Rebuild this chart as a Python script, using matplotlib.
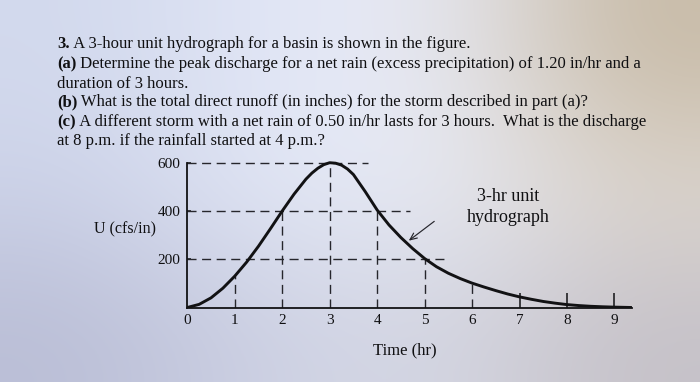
import numpy as np
import matplotlib
matplotlib.use("Agg")
import matplotlib.pyplot as plt

# ---------------- data ----------------
time_hr = [0, 0.25, 0.5, 0.75, 1, 1.25, 1.5, 1.75, 2, 2.25, 2.5, 2.625, 2.75,
           2.875, 3, 3.125, 3.25, 3.375, 3.5, 3.75, 4, 4.25, 4.5, 4.75, 5,
           5.25, 5.5, 5.75, 6, 6.25, 6.5, 6.75, 7, 7.25, 7.5, 7.75, 8, 8.25,
           8.5, 8.75, 9, 9.36]
unit_q = [0, 13, 40, 80, 130, 188, 254, 326, 400, 470, 532, 557, 577,
          592, 600, 598, 590, 574, 551, 480, 404, 342, 290, 244, 203,
          169, 142, 120, 101, 85, 70, 56, 44, 34, 25, 18, 12, 8,
          5, 3, 1.5, 0]

x_ticks = [0, 1, 2, 3, 4, 5, 6, 7, 8, 9]
y_ticks = [200, 400, 600]
guide_hours = [1, 2, 3, 4, 5, 6]          # dashed verticals up to the curve
guide_levels = [200, 400, 600]            # dashed horizontals
guide_level_ends = [5.5, 4.7, 3.8]        # where each horizontal stops (hr)
solid_tick_hours = [7, 8, 9]

question_lines = [
    ("3.", " A 3-hour unit hydrograph for a basin is shown in the figure."),
    ("(a)", " Determine the peak discharge for a net rain (excess precipitation) of 1.20 in/hr and a"),
    ("", "duration of 3 hours."),
    ("(b)", " What is the total direct runoff (in inches) for the storm described in part (a)?"),
    ("(c)", " A different storm with a net rain of 0.50 in/hr lasts for 3 hours.  What is the discharge"),
    ("", "at 8 p.m. if the rainfall started at 4 p.m.?"),
]
y_label = "U (cfs/in)"
x_label = "Time (hr)"
curve_label = ["3-hr unit", "hydrograph"]

# ---------------- figure ----------------
W, H = 700, 382
fig = plt.figure(figsize=(W / 100, H / 100), dpi=100)
FONT = "Liberation Serif"
TXT = "#101012"
INK = "#121214"
GUIDE = "#26262c"

# photographic paper background (soft gradient)
bg = fig.add_axes([0, 0, 1, 1], zorder=-10)
grid = np.array([
    [[210, 217, 237], [225, 230, 246], [233, 235, 245], [200, 187, 167]],
    [[204, 210, 232], [226, 231, 246], [233, 236, 246], [221, 214, 206]],
    [[186, 190, 214], [205, 209, 228], [214, 216, 228], [197, 193, 200]],
], dtype=float) / 255.0
bg.imshow(grid, aspect="auto", interpolation="bicubic", extent=[0, 1, 0, 1])
bg.set_xlim(0, 1)
bg.set_ylim(0, 1)
bg.axis("off")

# question text
x0 = 57 / W
baselines = [48.5, 68, 87.5, 106.5, 126, 145]
for (bold, rest), yb in zip(question_lines, baselines):
    yf = 1 - yb / H
    if bold:
        t = fig.text(x0, yf, bold, fontsize=12, fontweight="bold",
                     family=FONT, color=TXT, va="baseline", ha="left")
        bg.annotate(rest, xy=(1, 0), xycoords=t, va="bottom", ha="left",
                    fontsize=12, family=FONT, color=TXT, annotation_clip=False)
    else:
        fig.text(x0, yf, rest, fontsize=12, family=FONT, color=TXT,
                 va="baseline", ha="left")

# ---------------- chart axes ----------------
px_per_hr = 47.46
left_px, zero_px = 187.3, 307.5
px_per_unit = 0.2413
xmax, ymax = 9.36, 620
ax = fig.add_axes([left_px / W, (H - zero_px) / H,
                   xmax * px_per_hr / W, ymax * px_per_unit / H])
ax.patch.set_alpha(0)
ax.set_xlim(0, xmax)
ax.set_ylim(0, ymax)

for s in ("top", "right"):
    ax.spines[s].set_visible(False)
for s in ("left", "bottom"):
    ax.spines[s].set_color(INK)
    ax.spines[s].set_linewidth(1.3)
ax.spines["left"].set_bounds(0, 600)

dash = (0, (6.5, 4))
for lvl, end in zip(guide_levels, guide_level_ends):
    ax.plot([0, end], [lvl, lvl], color=GUIDE, lw=1.0, ls=dash, zorder=2)
for h in guide_hours:
    top = unit_q[time_hr.index(h)]
    ax.plot([h, h], [0, top], color=GUIDE, lw=1.0, ls=dash, zorder=2)

ax.plot(time_hr, unit_q, color=INK, lw=2.1, solid_capstyle="round",
        solid_joinstyle="round", zorder=3)

ax.set_xticks(x_ticks)
ax.set_xticklabels([str(v) for v in x_ticks])
ax.set_yticks(y_ticks)
ax.set_yticklabels([str(v) for v in y_ticks])
ax.tick_params(axis="x", direction="in", length=11, width=1.1, color=INK,
               pad=5, labelsize=11, labelcolor=TXT)
ax.tick_params(axis="y", direction="in", length=3, width=1.1, color=INK,
               pad=5, labelsize=11, labelcolor=TXT)
for tk, v in zip(ax.xaxis.get_major_ticks(), x_ticks):
    if v not in solid_tick_hours:
        tk.tick1line.set_visible(False)
for lab in ax.get_xticklabels() + ax.get_yticklabels():
    lab.set_family(FONT)

ax.annotate("", xy=(4.62, 270), xytext=(5.25, 364),
            arrowprops=dict(arrowstyle="->,head_length=0.5,head_width=0.22",
                            color=GUIDE, lw=0.85), zorder=4)

fig.text(156 / W, 1 - 229 / H, y_label, fontsize=11.5, family=FONT,
         color=TXT, ha="right", va="center")
fig.text(405 / W, 1 - 350 / H, x_label, fontsize=12, family=FONT,
         color=TXT, ha="center", va="center")
fig.text(508 / W, 1 - 197 / H, curve_label[0], fontsize=13, family=FONT,
         color=TXT, ha="center", va="center")
fig.text(508 / W, 1 - 218 / H, curve_label[1], fontsize=13, family=FONT,
         color=TXT, ha="center", va="center")

fig.savefig("out.png", dpi=100)
